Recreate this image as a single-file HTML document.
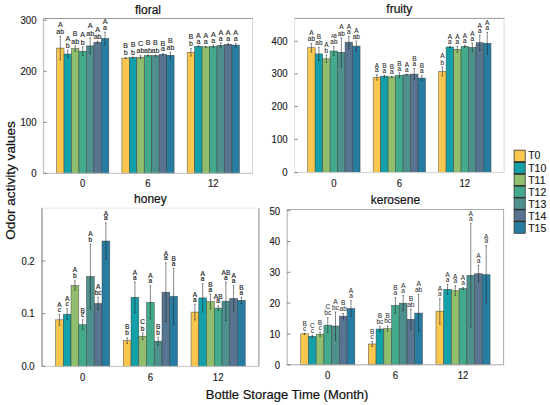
<!DOCTYPE html>
<html><head><meta charset="utf-8"><style>
html,body{margin:0;padding:0;background:#fff;}
svg{display:block;}
text{font-family:"Liberation Sans",sans-serif;}
</style></head><body>
<svg width="550" height="405" viewBox="0 0 550 405">
<rect width="550" height="405" fill="#fff"/>
<rect x="56.56" y="48.1" width="7.46" height="125.2" fill="#F9C74F" stroke="#3a3a3a" stroke-opacity="0.75" stroke-width="0.6"/>
<rect x="64.03" y="54" width="7.46" height="119.3" fill="#14A0A8" stroke="#3a3a3a" stroke-opacity="0.75" stroke-width="0.6"/>
<rect x="71.49" y="48.6" width="7.46" height="124.7" fill="#90BE6D" stroke="#3a3a3a" stroke-opacity="0.75" stroke-width="0.6"/>
<rect x="78.96" y="51.2" width="7.46" height="122.1" fill="#43AA8B" stroke="#3a3a3a" stroke-opacity="0.75" stroke-width="0.6"/>
<rect x="86.42" y="45.9" width="7.46" height="127.4" fill="#4D908E" stroke="#3a3a3a" stroke-opacity="0.75" stroke-width="0.6"/>
<rect x="93.88" y="42.2" width="7.46" height="131.1" fill="#577590" stroke="#3a3a3a" stroke-opacity="0.75" stroke-width="0.6"/>
<rect x="101.35" y="38.5" width="7.46" height="134.8" fill="#277DA1" stroke="#3a3a3a" stroke-opacity="0.75" stroke-width="0.6"/>
<rect x="121.88" y="58.1" width="7.46" height="115.2" fill="#F9C74F" stroke="#3a3a3a" stroke-opacity="0.75" stroke-width="0.6"/>
<rect x="129.34" y="57.4" width="7.46" height="115.9" fill="#14A0A8" stroke="#3a3a3a" stroke-opacity="0.75" stroke-width="0.6"/>
<rect x="136.8" y="57.2" width="7.46" height="116.1" fill="#90BE6D" stroke="#3a3a3a" stroke-opacity="0.75" stroke-width="0.6"/>
<rect x="144.27" y="55.6" width="7.46" height="117.7" fill="#43AA8B" stroke="#3a3a3a" stroke-opacity="0.75" stroke-width="0.6"/>
<rect x="151.73" y="55.6" width="7.46" height="117.7" fill="#4D908E" stroke="#3a3a3a" stroke-opacity="0.75" stroke-width="0.6"/>
<rect x="159.2" y="54.3" width="7.46" height="119" fill="#577590" stroke="#3a3a3a" stroke-opacity="0.75" stroke-width="0.6"/>
<rect x="166.66" y="55.3" width="7.46" height="118" fill="#277DA1" stroke="#3a3a3a" stroke-opacity="0.75" stroke-width="0.6"/>
<rect x="187.19" y="52.3" width="7.46" height="121" fill="#F9C74F" stroke="#3a3a3a" stroke-opacity="0.75" stroke-width="0.6"/>
<rect x="194.65" y="46.3" width="7.46" height="127" fill="#14A0A8" stroke="#3a3a3a" stroke-opacity="0.75" stroke-width="0.6"/>
<rect x="202.12" y="46.9" width="7.46" height="126.4" fill="#90BE6D" stroke="#3a3a3a" stroke-opacity="0.75" stroke-width="0.6"/>
<rect x="209.58" y="46.3" width="7.46" height="127" fill="#43AA8B" stroke="#3a3a3a" stroke-opacity="0.75" stroke-width="0.6"/>
<rect x="217.04" y="45.3" width="7.46" height="128" fill="#4D908E" stroke="#3a3a3a" stroke-opacity="0.75" stroke-width="0.6"/>
<rect x="224.51" y="44.3" width="7.46" height="129" fill="#577590" stroke="#3a3a3a" stroke-opacity="0.75" stroke-width="0.6"/>
<rect x="231.97" y="45.1" width="7.46" height="128.2" fill="#277DA1" stroke="#3a3a3a" stroke-opacity="0.75" stroke-width="0.6"/>
<path d="M60.29 36.2V60M59.49 36.2H61.09M59.49 60H61.09" stroke="#222" stroke-width="0.55" fill="none"/>
<path d="M67.76 50.3V57.7M66.96 50.3H68.56M66.96 57.7H68.56" stroke="#222" stroke-width="0.55" fill="none"/>
<path d="M75.22 45.9V51.3M74.42 45.9H76.02M74.42 51.3H76.02" stroke="#222" stroke-width="0.55" fill="none"/>
<path d="M82.69 46.9V55.5M81.89 46.9H83.49M81.89 55.5H83.49" stroke="#222" stroke-width="0.55" fill="none"/>
<path d="M90.15 37.9V53.9M89.35 37.9H90.95M89.35 53.9H90.95" stroke="#222" stroke-width="0.55" fill="none"/>
<path d="M97.62 41.2V43.2M96.82 41.2H98.42M96.82 43.2H98.42" stroke="#222" stroke-width="0.55" fill="none"/>
<path d="M105.08 32.3V44.7M104.28 32.3H105.88M104.28 44.7H105.88" stroke="#222" stroke-width="0.55" fill="none"/>
<path d="M125.61 57.7V58.5M124.81 57.7H126.41M124.81 58.5H126.41" stroke="#222" stroke-width="0.55" fill="none"/>
<path d="M133.07 57V57.8M132.27 57H133.87M132.27 57.8H133.87" stroke="#222" stroke-width="0.55" fill="none"/>
<path d="M140.54 55.7V58.7M139.74 55.7H141.34M139.74 58.7H141.34" stroke="#222" stroke-width="0.55" fill="none"/>
<path d="M148 55V56.2M147.2 55H148.8M147.2 56.2H148.8" stroke="#222" stroke-width="0.55" fill="none"/>
<path d="M155.46 55V56.2M154.66 55H156.26M154.66 56.2H156.26" stroke="#222" stroke-width="0.55" fill="none"/>
<path d="M162.93 53.7V54.9M162.13 53.7H163.73M162.13 54.9H163.73" stroke="#222" stroke-width="0.55" fill="none"/>
<path d="M170.39 52.1V58.5M169.59 52.1H171.19M169.59 58.5H171.19" stroke="#222" stroke-width="0.55" fill="none"/>
<path d="M190.92 48.5V56.1M190.12 48.5H191.72M190.12 56.1H191.72" stroke="#222" stroke-width="0.55" fill="none"/>
<path d="M198.38 45.8V46.8M197.58 45.8H199.18M197.58 46.8H199.18" stroke="#222" stroke-width="0.55" fill="none"/>
<path d="M205.85 46.4V47.4M205.05 46.4H206.65M205.05 47.4H206.65" stroke="#222" stroke-width="0.55" fill="none"/>
<path d="M213.31 44.8V47.8M212.51 44.8H214.11M212.51 47.8H214.11" stroke="#222" stroke-width="0.55" fill="none"/>
<path d="M220.78 42.8V47.8M219.98 42.8H221.58M219.98 47.8H221.58" stroke="#222" stroke-width="0.55" fill="none"/>
<path d="M228.24 43.3V45.3M227.44 43.3H229.04M227.44 45.3H229.04" stroke="#222" stroke-width="0.55" fill="none"/>
<path d="M235.71 43.1V47.1M234.91 43.1H236.51M234.91 47.1H236.51" stroke="#222" stroke-width="0.55" fill="none"/>
<text x="0" y="0" transform="translate(60.29 26.67) scale(0.95 1)" font-size="7.5" text-anchor="middle" fill="#2a2a2a" stroke="#2a2a2a" stroke-width="0.15">A</text>
<text x="0" y="0" transform="translate(60.29 33.9) scale(0.95 1)" font-size="7.5" text-anchor="middle" fill="#2a2a2a" stroke="#2a2a2a" stroke-width="0.15">ab</text>
<text x="0" y="0" transform="translate(67.76 40.77) scale(0.95 1)" font-size="7.5" text-anchor="middle" fill="#2a2a2a" stroke="#2a2a2a" stroke-width="0.15">A</text>
<text x="0" y="0" transform="translate(67.76 48) scale(0.95 1)" font-size="7.5" text-anchor="middle" fill="#2a2a2a" stroke="#2a2a2a" stroke-width="0.15">b</text>
<text x="0" y="0" transform="translate(75.22 36.37) scale(0.95 1)" font-size="7.5" text-anchor="middle" fill="#2a2a2a" stroke="#2a2a2a" stroke-width="0.15">B</text>
<text x="0" y="0" transform="translate(75.22 43.6) scale(0.95 1)" font-size="7.5" text-anchor="middle" fill="#2a2a2a" stroke="#2a2a2a" stroke-width="0.15">ab</text>
<text x="0" y="0" transform="translate(82.69 37.37) scale(0.95 1)" font-size="7.5" text-anchor="middle" fill="#2a2a2a" stroke="#2a2a2a" stroke-width="0.15">A</text>
<text x="0" y="0" transform="translate(82.69 44.6) scale(0.95 1)" font-size="7.5" text-anchor="middle" fill="#2a2a2a" stroke="#2a2a2a" stroke-width="0.15">b</text>
<text x="0" y="0" transform="translate(90.15 28.37) scale(0.95 1)" font-size="7.5" text-anchor="middle" fill="#2a2a2a" stroke="#2a2a2a" stroke-width="0.15">A</text>
<text x="0" y="0" transform="translate(90.15 35.6) scale(0.95 1)" font-size="7.5" text-anchor="middle" fill="#2a2a2a" stroke="#2a2a2a" stroke-width="0.15">ab</text>
<text x="0" y="0" transform="translate(97.62 31.67) scale(0.95 1)" font-size="7.5" text-anchor="middle" fill="#2a2a2a" stroke="#2a2a2a" stroke-width="0.15">A</text>
<text x="0" y="0" transform="translate(97.62 38.9) scale(0.95 1)" font-size="7.5" text-anchor="middle" fill="#2a2a2a" stroke="#2a2a2a" stroke-width="0.15">ab</text>
<text x="0" y="0" transform="translate(105.08 24.24) scale(0.95 1)" font-size="7.5" text-anchor="middle" fill="#2a2a2a" stroke="#2a2a2a" stroke-width="0.15">A</text>
<text x="0" y="0" transform="translate(105.08 30) scale(0.95 1)" font-size="7.5" text-anchor="middle" fill="#2a2a2a" stroke="#2a2a2a" stroke-width="0.15">a</text>
<text x="0" y="0" transform="translate(125.61 48.17) scale(0.95 1)" font-size="7.5" text-anchor="middle" fill="#2a2a2a" stroke="#2a2a2a" stroke-width="0.15">B</text>
<text x="0" y="0" transform="translate(125.61 55.4) scale(0.95 1)" font-size="7.5" text-anchor="middle" fill="#2a2a2a" stroke="#2a2a2a" stroke-width="0.15">b</text>
<text x="0" y="0" transform="translate(133.07 47.47) scale(0.95 1)" font-size="7.5" text-anchor="middle" fill="#2a2a2a" stroke="#2a2a2a" stroke-width="0.15">B</text>
<text x="0" y="0" transform="translate(133.07 54.7) scale(0.95 1)" font-size="7.5" text-anchor="middle" fill="#2a2a2a" stroke="#2a2a2a" stroke-width="0.15">b</text>
<text x="0" y="0" transform="translate(140.54 46.17) scale(0.95 1)" font-size="7.5" text-anchor="middle" fill="#2a2a2a" stroke="#2a2a2a" stroke-width="0.15">C</text>
<text x="0" y="0" transform="translate(140.54 53.4) scale(0.95 1)" font-size="7.5" text-anchor="middle" fill="#2a2a2a" stroke="#2a2a2a" stroke-width="0.15">ab</text>
<text x="0" y="0" transform="translate(148 45.47) scale(0.95 1)" font-size="7.5" text-anchor="middle" fill="#2a2a2a" stroke="#2a2a2a" stroke-width="0.15">B</text>
<text x="0" y="0" transform="translate(148 52.7) scale(0.95 1)" font-size="7.5" text-anchor="middle" fill="#2a2a2a" stroke="#2a2a2a" stroke-width="0.15">ab</text>
<text x="0" y="0" transform="translate(155.46 45.47) scale(0.95 1)" font-size="7.5" text-anchor="middle" fill="#2a2a2a" stroke="#2a2a2a" stroke-width="0.15">B</text>
<text x="0" y="0" transform="translate(155.46 52.7) scale(0.95 1)" font-size="7.5" text-anchor="middle" fill="#2a2a2a" stroke="#2a2a2a" stroke-width="0.15">ab</text>
<text x="0" y="0" transform="translate(162.93 45.64) scale(0.95 1)" font-size="7.5" text-anchor="middle" fill="#2a2a2a" stroke="#2a2a2a" stroke-width="0.15">B</text>
<text x="0" y="0" transform="translate(162.93 51.4) scale(0.95 1)" font-size="7.5" text-anchor="middle" fill="#2a2a2a" stroke="#2a2a2a" stroke-width="0.15">a</text>
<text x="0" y="0" transform="translate(170.39 42.57) scale(0.95 1)" font-size="7.5" text-anchor="middle" fill="#2a2a2a" stroke="#2a2a2a" stroke-width="0.15">B</text>
<text x="0" y="0" transform="translate(170.39 49.8) scale(0.95 1)" font-size="7.5" text-anchor="middle" fill="#2a2a2a" stroke="#2a2a2a" stroke-width="0.15">ab</text>
<text x="0" y="0" transform="translate(190.92 38.97) scale(0.95 1)" font-size="7.5" text-anchor="middle" fill="#2a2a2a" stroke="#2a2a2a" stroke-width="0.15">B</text>
<text x="0" y="0" transform="translate(190.92 46.2) scale(0.95 1)" font-size="7.5" text-anchor="middle" fill="#2a2a2a" stroke="#2a2a2a" stroke-width="0.15">b</text>
<text x="0" y="0" transform="translate(198.38 37.74) scale(0.95 1)" font-size="7.5" text-anchor="middle" fill="#2a2a2a" stroke="#2a2a2a" stroke-width="0.15">A</text>
<text x="0" y="0" transform="translate(198.38 43.5) scale(0.95 1)" font-size="7.5" text-anchor="middle" fill="#2a2a2a" stroke="#2a2a2a" stroke-width="0.15">a</text>
<text x="0" y="0" transform="translate(205.85 38.34) scale(0.95 1)" font-size="7.5" text-anchor="middle" fill="#2a2a2a" stroke="#2a2a2a" stroke-width="0.15">A</text>
<text x="0" y="0" transform="translate(205.85 44.1) scale(0.95 1)" font-size="7.5" text-anchor="middle" fill="#2a2a2a" stroke="#2a2a2a" stroke-width="0.15">a</text>
<text x="0" y="0" transform="translate(213.31 36.74) scale(0.95 1)" font-size="7.5" text-anchor="middle" fill="#2a2a2a" stroke="#2a2a2a" stroke-width="0.15">A</text>
<text x="0" y="0" transform="translate(213.31 42.5) scale(0.95 1)" font-size="7.5" text-anchor="middle" fill="#2a2a2a" stroke="#2a2a2a" stroke-width="0.15">a</text>
<text x="0" y="0" transform="translate(220.78 34.74) scale(0.95 1)" font-size="7.5" text-anchor="middle" fill="#2a2a2a" stroke="#2a2a2a" stroke-width="0.15">A</text>
<text x="0" y="0" transform="translate(220.78 40.5) scale(0.95 1)" font-size="7.5" text-anchor="middle" fill="#2a2a2a" stroke="#2a2a2a" stroke-width="0.15">a</text>
<text x="0" y="0" transform="translate(228.24 35.24) scale(0.95 1)" font-size="7.5" text-anchor="middle" fill="#2a2a2a" stroke="#2a2a2a" stroke-width="0.15">A</text>
<text x="0" y="0" transform="translate(228.24 41) scale(0.95 1)" font-size="7.5" text-anchor="middle" fill="#2a2a2a" stroke="#2a2a2a" stroke-width="0.15">a</text>
<text x="0" y="0" transform="translate(235.71 35.04) scale(0.95 1)" font-size="7.5" text-anchor="middle" fill="#2a2a2a" stroke="#2a2a2a" stroke-width="0.15">A</text>
<text x="0" y="0" transform="translate(235.71 40.8) scale(0.95 1)" font-size="7.5" text-anchor="middle" fill="#2a2a2a" stroke="#2a2a2a" stroke-width="0.15">a</text>
<path d="M43 18.5H253" stroke="#999" stroke-width="1"/>
<path d="M43.5 18.5V173.3" stroke="#c4c4c4" stroke-width="1.3"/>
<path d="M252.5 18.5V173.3" stroke="#d4d4d4" stroke-width="1"/>
<path d="M43 173.3H253" stroke="#c0c0c0" stroke-width="1"/>
<path d="M43.5 173.3H46.7" stroke="#666" stroke-width="0.8"/>
<text x="0" y="0" transform="translate(36.5 176.8) scale(0.93 1)" font-size="10.3" text-anchor="end" fill="#1a1a1a" stroke="#1a1a1a" stroke-width="0.15">0</text>
<path d="M43.5 122.4H46.7" stroke="#666" stroke-width="0.8"/>
<text x="0" y="0" transform="translate(36.5 125.9) scale(0.93 1)" font-size="10.3" text-anchor="end" fill="#1a1a1a" stroke="#1a1a1a" stroke-width="0.15">100</text>
<path d="M43.5 71.3H46.7" stroke="#666" stroke-width="0.8"/>
<text x="0" y="0" transform="translate(36.5 74.8) scale(0.93 1)" font-size="10.3" text-anchor="end" fill="#1a1a1a" stroke="#1a1a1a" stroke-width="0.15">200</text>
<path d="M43.5 20.3H46.7" stroke="#666" stroke-width="0.8"/>
<text x="0" y="0" transform="translate(36.5 23.8) scale(0.93 1)" font-size="10.3" text-anchor="end" fill="#1a1a1a" stroke="#1a1a1a" stroke-width="0.15">300</text>
<text x="0" y="0" transform="translate(82.69 187.3) scale(0.93 1)" font-size="10.3" text-anchor="middle" fill="#1a1a1a" stroke="#1a1a1a" stroke-width="0.15">0</text>
<text x="0" y="0" transform="translate(148 187.3) scale(0.93 1)" font-size="10.3" text-anchor="middle" fill="#1a1a1a" stroke="#1a1a1a" stroke-width="0.15">6</text>
<text x="0" y="0" transform="translate(213.31 187.3) scale(0.93 1)" font-size="10.3" text-anchor="middle" fill="#1a1a1a" stroke="#1a1a1a" stroke-width="0.15">12</text>
<text x="148" y="13.6" font-size="12" text-anchor="middle" fill="#111" stroke="#111" stroke-width="0.2">floral</text>
<rect x="307.69" y="47.7" width="7.48" height="124.9" fill="#F9C74F" stroke="#3a3a3a" stroke-opacity="0.75" stroke-width="0.6"/>
<rect x="315.18" y="53.9" width="7.48" height="118.7" fill="#14A0A8" stroke="#3a3a3a" stroke-opacity="0.75" stroke-width="0.6"/>
<rect x="322.66" y="58.8" width="7.48" height="113.8" fill="#90BE6D" stroke="#3a3a3a" stroke-opacity="0.75" stroke-width="0.6"/>
<rect x="330.14" y="51" width="7.48" height="121.6" fill="#43AA8B" stroke="#3a3a3a" stroke-opacity="0.75" stroke-width="0.6"/>
<rect x="337.62" y="52.3" width="7.48" height="120.3" fill="#4D908E" stroke="#3a3a3a" stroke-opacity="0.75" stroke-width="0.6"/>
<rect x="345.1" y="42.2" width="7.48" height="130.4" fill="#577590" stroke="#3a3a3a" stroke-opacity="0.75" stroke-width="0.6"/>
<rect x="352.59" y="46.1" width="7.48" height="126.5" fill="#277DA1" stroke="#3a3a3a" stroke-opacity="0.75" stroke-width="0.6"/>
<rect x="373.16" y="77.4" width="7.48" height="95.2" fill="#F9C74F" stroke="#3a3a3a" stroke-opacity="0.75" stroke-width="0.6"/>
<rect x="380.64" y="76.2" width="7.48" height="96.4" fill="#14A0A8" stroke="#3a3a3a" stroke-opacity="0.75" stroke-width="0.6"/>
<rect x="388.13" y="76.9" width="7.48" height="95.7" fill="#90BE6D" stroke="#3a3a3a" stroke-opacity="0.75" stroke-width="0.6"/>
<rect x="395.61" y="75.3" width="7.48" height="97.3" fill="#43AA8B" stroke="#3a3a3a" stroke-opacity="0.75" stroke-width="0.6"/>
<rect x="403.09" y="74.7" width="7.48" height="97.9" fill="#4D908E" stroke="#3a3a3a" stroke-opacity="0.75" stroke-width="0.6"/>
<rect x="410.57" y="74.1" width="7.48" height="98.5" fill="#577590" stroke="#3a3a3a" stroke-opacity="0.75" stroke-width="0.6"/>
<rect x="418.06" y="78.1" width="7.48" height="94.5" fill="#277DA1" stroke="#3a3a3a" stroke-opacity="0.75" stroke-width="0.6"/>
<rect x="438.63" y="71.5" width="7.48" height="101.1" fill="#F9C74F" stroke="#3a3a3a" stroke-opacity="0.75" stroke-width="0.6"/>
<rect x="446.11" y="47" width="7.48" height="125.6" fill="#14A0A8" stroke="#3a3a3a" stroke-opacity="0.75" stroke-width="0.6"/>
<rect x="453.6" y="49.3" width="7.48" height="123.3" fill="#90BE6D" stroke="#3a3a3a" stroke-opacity="0.75" stroke-width="0.6"/>
<rect x="461.08" y="46.4" width="7.48" height="126.2" fill="#43AA8B" stroke="#3a3a3a" stroke-opacity="0.75" stroke-width="0.6"/>
<rect x="468.56" y="47.3" width="7.48" height="125.3" fill="#4D908E" stroke="#3a3a3a" stroke-opacity="0.75" stroke-width="0.6"/>
<rect x="476.04" y="42.7" width="7.48" height="129.9" fill="#577590" stroke="#3a3a3a" stroke-opacity="0.75" stroke-width="0.6"/>
<rect x="483.52" y="43.3" width="7.48" height="129.3" fill="#277DA1" stroke="#3a3a3a" stroke-opacity="0.75" stroke-width="0.6"/>
<path d="M311.43 43.4V52M310.63 43.4H312.23M310.63 52H312.23" stroke="#222" stroke-width="0.55" fill="none"/>
<path d="M318.92 47.3V60.5M318.12 47.3H319.72M318.12 60.5H319.72" stroke="#222" stroke-width="0.55" fill="none"/>
<path d="M326.4 55.1V62.5M325.6 55.1H327.2M325.6 62.5H327.2" stroke="#222" stroke-width="0.55" fill="none"/>
<path d="M333.88 46.5V55.5M333.08 46.5H334.68M333.08 55.5H334.68" stroke="#222" stroke-width="0.55" fill="none"/>
<path d="M341.36 37.8V66.8M340.56 37.8H342.16M340.56 66.8H342.16" stroke="#222" stroke-width="0.55" fill="none"/>
<path d="M348.85 36V48.4M348.05 36H349.65M348.05 48.4H349.65" stroke="#222" stroke-width="0.55" fill="none"/>
<path d="M356.33 41.1V51.1M355.53 41.1H357.13M355.53 51.1H357.13" stroke="#222" stroke-width="0.55" fill="none"/>
<path d="M376.9 74.7V80.1M376.1 74.7H377.7M376.1 80.1H377.7" stroke="#222" stroke-width="0.55" fill="none"/>
<path d="M384.39 75.2V77.2M383.59 75.2H385.19M383.59 77.2H385.19" stroke="#222" stroke-width="0.55" fill="none"/>
<path d="M391.87 76.4V77.4M391.07 76.4H392.67M391.07 77.4H392.67" stroke="#222" stroke-width="0.55" fill="none"/>
<path d="M399.35 72.8V77.8M398.55 72.8H400.15M398.55 77.8H400.15" stroke="#222" stroke-width="0.55" fill="none"/>
<path d="M406.83 74.2V75.2M406.03 74.2H407.63M406.03 75.2H407.63" stroke="#222" stroke-width="0.55" fill="none"/>
<path d="M414.31 68.5V79.7M413.51 68.5H415.11M413.51 79.7H415.11" stroke="#222" stroke-width="0.55" fill="none"/>
<path d="M421.8 75.3V80.9M421 75.3H422.6M421 80.9H422.6" stroke="#222" stroke-width="0.55" fill="none"/>
<path d="M442.37 67V76M441.57 67H443.17M441.57 76H443.17" stroke="#222" stroke-width="0.55" fill="none"/>
<path d="M449.85 46.5V47.5M449.05 46.5H450.65M449.05 47.5H450.65" stroke="#222" stroke-width="0.55" fill="none"/>
<path d="M457.34 46.4V52.2M456.54 46.4H458.14M456.54 52.2H458.14" stroke="#222" stroke-width="0.55" fill="none"/>
<path d="M464.82 45.4V47.4M464.02 45.4H465.62M464.02 47.4H465.62" stroke="#222" stroke-width="0.55" fill="none"/>
<path d="M472.3 43.1V51.5M471.5 43.1H473.1M471.5 51.5H473.1" stroke="#222" stroke-width="0.55" fill="none"/>
<path d="M479.78 35.3V50.1M478.98 35.3H480.58M478.98 50.1H480.58" stroke="#222" stroke-width="0.55" fill="none"/>
<path d="M487.27 32.3V54.3M486.47 32.3H488.07M486.47 54.3H488.07" stroke="#222" stroke-width="0.55" fill="none"/>
<text x="0" y="0" transform="translate(311.43 34.88) scale(0.9 1)" font-size="7.2" text-anchor="middle" fill="#2a2a2a" stroke="#2a2a2a" stroke-width="0.1">A</text>
<text x="0" y="0" transform="translate(311.43 41.1) scale(0.9 1)" font-size="7.2" text-anchor="middle" fill="#2a2a2a" stroke="#2a2a2a" stroke-width="0.1">ab</text>
<text x="0" y="0" transform="translate(318.92 38.78) scale(0.9 1)" font-size="7.2" text-anchor="middle" fill="#2a2a2a" stroke="#2a2a2a" stroke-width="0.1">B</text>
<text x="0" y="0" transform="translate(318.92 45) scale(0.9 1)" font-size="7.2" text-anchor="middle" fill="#2a2a2a" stroke="#2a2a2a" stroke-width="0.1">ab</text>
<text x="0" y="0" transform="translate(326.4 46.58) scale(0.9 1)" font-size="7.2" text-anchor="middle" fill="#2a2a2a" stroke="#2a2a2a" stroke-width="0.1">A</text>
<text x="0" y="0" transform="translate(326.4 52.8) scale(0.9 1)" font-size="7.2" text-anchor="middle" fill="#2a2a2a" stroke="#2a2a2a" stroke-width="0.1">b</text>
<text x="0" y="0" transform="translate(333.88 37.98) scale(0.9 1)" font-size="4.6" text-anchor="middle" fill="#2a2a2a" stroke="#2a2a2a" stroke-width="0.1">AB</text>
<text x="0" y="0" transform="translate(333.88 44.2) scale(0.9 1)" font-size="7.2" text-anchor="middle" fill="#2a2a2a" stroke="#2a2a2a" stroke-width="0.1">ab</text>
<text x="0" y="0" transform="translate(341.36 29.28) scale(0.9 1)" font-size="7.2" text-anchor="middle" fill="#2a2a2a" stroke="#2a2a2a" stroke-width="0.1">A</text>
<text x="0" y="0" transform="translate(341.36 35.5) scale(0.9 1)" font-size="7.2" text-anchor="middle" fill="#2a2a2a" stroke="#2a2a2a" stroke-width="0.1">ab</text>
<text x="0" y="0" transform="translate(348.85 28.9) scale(0.9 1)" font-size="7.2" text-anchor="middle" fill="#2a2a2a" stroke="#2a2a2a" stroke-width="0.1">A</text>
<text x="0" y="0" transform="translate(348.85 33.7) scale(0.9 1)" font-size="7.2" text-anchor="middle" fill="#2a2a2a" stroke="#2a2a2a" stroke-width="0.1">a</text>
<text x="0" y="0" transform="translate(356.33 32.58) scale(0.9 1)" font-size="7.2" text-anchor="middle" fill="#2a2a2a" stroke="#2a2a2a" stroke-width="0.1">A</text>
<text x="0" y="0" transform="translate(356.33 38.8) scale(0.9 1)" font-size="7.2" text-anchor="middle" fill="#2a2a2a" stroke="#2a2a2a" stroke-width="0.1">ab</text>
<text x="0" y="0" transform="translate(376.9 67.6) scale(0.9 1)" font-size="7.2" text-anchor="middle" fill="#2a2a2a" stroke="#2a2a2a" stroke-width="0.1">A</text>
<text x="0" y="0" transform="translate(376.9 72.4) scale(0.9 1)" font-size="7.2" text-anchor="middle" fill="#2a2a2a" stroke="#2a2a2a" stroke-width="0.1">a</text>
<text x="0" y="0" transform="translate(384.39 68.1) scale(0.9 1)" font-size="7.2" text-anchor="middle" fill="#2a2a2a" stroke="#2a2a2a" stroke-width="0.1">B</text>
<text x="0" y="0" transform="translate(384.39 72.9) scale(0.9 1)" font-size="7.2" text-anchor="middle" fill="#2a2a2a" stroke="#2a2a2a" stroke-width="0.1">a</text>
<text x="0" y="0" transform="translate(391.87 69.3) scale(0.9 1)" font-size="7.2" text-anchor="middle" fill="#2a2a2a" stroke="#2a2a2a" stroke-width="0.1">B</text>
<text x="0" y="0" transform="translate(391.87 74.1) scale(0.9 1)" font-size="7.2" text-anchor="middle" fill="#2a2a2a" stroke="#2a2a2a" stroke-width="0.1">a</text>
<text x="0" y="0" transform="translate(399.35 65.7) scale(0.9 1)" font-size="7.2" text-anchor="middle" fill="#2a2a2a" stroke="#2a2a2a" stroke-width="0.1">B</text>
<text x="0" y="0" transform="translate(399.35 70.5) scale(0.9 1)" font-size="7.2" text-anchor="middle" fill="#2a2a2a" stroke="#2a2a2a" stroke-width="0.1">a</text>
<text x="0" y="0" transform="translate(406.83 67.1) scale(0.9 1)" font-size="7.2" text-anchor="middle" fill="#2a2a2a" stroke="#2a2a2a" stroke-width="0.1">A</text>
<text x="0" y="0" transform="translate(406.83 71.9) scale(0.9 1)" font-size="7.2" text-anchor="middle" fill="#2a2a2a" stroke="#2a2a2a" stroke-width="0.1">a</text>
<text x="0" y="0" transform="translate(414.31 61.4) scale(0.9 1)" font-size="7.2" text-anchor="middle" fill="#2a2a2a" stroke="#2a2a2a" stroke-width="0.1">B</text>
<text x="0" y="0" transform="translate(414.31 66.2) scale(0.9 1)" font-size="7.2" text-anchor="middle" fill="#2a2a2a" stroke="#2a2a2a" stroke-width="0.1">a</text>
<text x="0" y="0" transform="translate(421.8 68.2) scale(0.9 1)" font-size="7.2" text-anchor="middle" fill="#2a2a2a" stroke="#2a2a2a" stroke-width="0.1">B</text>
<text x="0" y="0" transform="translate(421.8 73) scale(0.9 1)" font-size="7.2" text-anchor="middle" fill="#2a2a2a" stroke="#2a2a2a" stroke-width="0.1">a</text>
<text x="0" y="0" transform="translate(442.37 58.48) scale(0.9 1)" font-size="7.2" text-anchor="middle" fill="#2a2a2a" stroke="#2a2a2a" stroke-width="0.1">A</text>
<text x="0" y="0" transform="translate(442.37 64.7) scale(0.9 1)" font-size="7.2" text-anchor="middle" fill="#2a2a2a" stroke="#2a2a2a" stroke-width="0.1">b</text>
<text x="0" y="0" transform="translate(449.85 39.4) scale(0.9 1)" font-size="7.2" text-anchor="middle" fill="#2a2a2a" stroke="#2a2a2a" stroke-width="0.1">A</text>
<text x="0" y="0" transform="translate(449.85 44.2) scale(0.9 1)" font-size="7.2" text-anchor="middle" fill="#2a2a2a" stroke="#2a2a2a" stroke-width="0.1">a</text>
<text x="0" y="0" transform="translate(457.34 39.3) scale(0.9 1)" font-size="7.2" text-anchor="middle" fill="#2a2a2a" stroke="#2a2a2a" stroke-width="0.1">A</text>
<text x="0" y="0" transform="translate(457.34 44.1) scale(0.9 1)" font-size="7.2" text-anchor="middle" fill="#2a2a2a" stroke="#2a2a2a" stroke-width="0.1">a</text>
<text x="0" y="0" transform="translate(464.82 38.3) scale(0.9 1)" font-size="7.2" text-anchor="middle" fill="#2a2a2a" stroke="#2a2a2a" stroke-width="0.1">A</text>
<text x="0" y="0" transform="translate(464.82 43.1) scale(0.9 1)" font-size="7.2" text-anchor="middle" fill="#2a2a2a" stroke="#2a2a2a" stroke-width="0.1">a</text>
<text x="0" y="0" transform="translate(472.3 36) scale(0.9 1)" font-size="7.2" text-anchor="middle" fill="#2a2a2a" stroke="#2a2a2a" stroke-width="0.1">A</text>
<text x="0" y="0" transform="translate(472.3 40.8) scale(0.9 1)" font-size="7.2" text-anchor="middle" fill="#2a2a2a" stroke="#2a2a2a" stroke-width="0.1">a</text>
<text x="0" y="0" transform="translate(479.78 28.2) scale(0.9 1)" font-size="7.2" text-anchor="middle" fill="#2a2a2a" stroke="#2a2a2a" stroke-width="0.1">A</text>
<text x="0" y="0" transform="translate(479.78 33) scale(0.9 1)" font-size="7.2" text-anchor="middle" fill="#2a2a2a" stroke="#2a2a2a" stroke-width="0.1">a</text>
<text x="0" y="0" transform="translate(487.27 25.2) scale(0.9 1)" font-size="7.2" text-anchor="middle" fill="#2a2a2a" stroke="#2a2a2a" stroke-width="0.1">A</text>
<text x="0" y="0" transform="translate(487.27 30) scale(0.9 1)" font-size="7.2" text-anchor="middle" fill="#2a2a2a" stroke="#2a2a2a" stroke-width="0.1">a</text>
<path d="M294.1 18.4H504.6" stroke="#999" stroke-width="1"/>
<path d="M294.6 18.4V172.6" stroke="#e0e0e0" stroke-width="1"/>
<path d="M504.1 18.4V172.6" stroke="#dadada" stroke-width="1"/>
<path d="M294.1 172.6H504.6" stroke="#d4d4d4" stroke-width="1"/>
<path d="M294.6 172.6H297.8" stroke="#666" stroke-width="0.8"/>
<text x="0" y="0" transform="translate(287.6 176.1) scale(0.93 1)" font-size="10.3" text-anchor="end" fill="#1a1a1a" stroke="#1a1a1a" stroke-width="0.15">0</text>
<path d="M294.6 139.4H297.8" stroke="#666" stroke-width="0.8"/>
<text x="0" y="0" transform="translate(287.6 142.9) scale(0.93 1)" font-size="10.3" text-anchor="end" fill="#1a1a1a" stroke="#1a1a1a" stroke-width="0.15">100</text>
<path d="M294.6 106.5H297.8" stroke="#666" stroke-width="0.8"/>
<text x="0" y="0" transform="translate(287.6 110) scale(0.93 1)" font-size="10.3" text-anchor="end" fill="#1a1a1a" stroke="#1a1a1a" stroke-width="0.15">200</text>
<path d="M294.6 73.9H297.8" stroke="#666" stroke-width="0.8"/>
<text x="0" y="0" transform="translate(287.6 77.4) scale(0.93 1)" font-size="10.3" text-anchor="end" fill="#1a1a1a" stroke="#1a1a1a" stroke-width="0.15">300</text>
<path d="M294.6 41.3H297.8" stroke="#666" stroke-width="0.8"/>
<text x="0" y="0" transform="translate(287.6 44.8) scale(0.93 1)" font-size="10.3" text-anchor="end" fill="#1a1a1a" stroke="#1a1a1a" stroke-width="0.15">400</text>
<text x="0" y="0" transform="translate(333.88 186.6) scale(0.93 1)" font-size="10.3" text-anchor="middle" fill="#1a1a1a" stroke="#1a1a1a" stroke-width="0.15">0</text>
<text x="0" y="0" transform="translate(399.35 186.6) scale(0.93 1)" font-size="10.3" text-anchor="middle" fill="#1a1a1a" stroke="#1a1a1a" stroke-width="0.15">6</text>
<text x="0" y="0" transform="translate(464.82 186.6) scale(0.93 1)" font-size="10.3" text-anchor="middle" fill="#1a1a1a" stroke="#1a1a1a" stroke-width="0.15">12</text>
<text x="399.35" y="13.2" font-size="12" text-anchor="middle" fill="#111" stroke="#111" stroke-width="0.2">fruity</text>
<rect x="55.55" y="319.8" width="7.74" height="46.6" fill="#F9C74F" stroke="#3a3a3a" stroke-opacity="0.75" stroke-width="0.6"/>
<rect x="63.29" y="314.2" width="7.74" height="52.2" fill="#14A0A8" stroke="#3a3a3a" stroke-opacity="0.75" stroke-width="0.6"/>
<rect x="71.04" y="285.5" width="7.74" height="80.9" fill="#90BE6D" stroke="#3a3a3a" stroke-opacity="0.75" stroke-width="0.6"/>
<rect x="78.78" y="324.7" width="7.74" height="41.7" fill="#43AA8B" stroke="#3a3a3a" stroke-opacity="0.75" stroke-width="0.6"/>
<rect x="86.52" y="276.5" width="7.74" height="89.9" fill="#4D908E" stroke="#3a3a3a" stroke-opacity="0.75" stroke-width="0.6"/>
<rect x="94.26" y="303.5" width="7.74" height="62.9" fill="#577590" stroke="#3a3a3a" stroke-opacity="0.75" stroke-width="0.6"/>
<rect x="102.01" y="241" width="7.74" height="125.4" fill="#277DA1" stroke="#3a3a3a" stroke-opacity="0.75" stroke-width="0.6"/>
<rect x="123.3" y="340.6" width="7.74" height="25.8" fill="#F9C74F" stroke="#3a3a3a" stroke-opacity="0.75" stroke-width="0.6"/>
<rect x="131.04" y="297.3" width="7.74" height="69.1" fill="#14A0A8" stroke="#3a3a3a" stroke-opacity="0.75" stroke-width="0.6"/>
<rect x="138.79" y="336.2" width="7.74" height="30.2" fill="#90BE6D" stroke="#3a3a3a" stroke-opacity="0.75" stroke-width="0.6"/>
<rect x="146.53" y="302.3" width="7.74" height="64.1" fill="#43AA8B" stroke="#3a3a3a" stroke-opacity="0.75" stroke-width="0.6"/>
<rect x="154.27" y="341.2" width="7.74" height="25.2" fill="#4D908E" stroke="#3a3a3a" stroke-opacity="0.75" stroke-width="0.6"/>
<rect x="162.01" y="292.2" width="7.74" height="74.2" fill="#577590" stroke="#3a3a3a" stroke-opacity="0.75" stroke-width="0.6"/>
<rect x="169.76" y="296.4" width="7.74" height="70" fill="#277DA1" stroke="#3a3a3a" stroke-opacity="0.75" stroke-width="0.6"/>
<rect x="191.05" y="312.1" width="7.74" height="54.3" fill="#F9C74F" stroke="#3a3a3a" stroke-opacity="0.75" stroke-width="0.6"/>
<rect x="198.79" y="297.9" width="7.74" height="68.5" fill="#14A0A8" stroke="#3a3a3a" stroke-opacity="0.75" stroke-width="0.6"/>
<rect x="206.54" y="301.6" width="7.74" height="64.8" fill="#90BE6D" stroke="#3a3a3a" stroke-opacity="0.75" stroke-width="0.6"/>
<rect x="214.28" y="308.1" width="7.74" height="58.3" fill="#43AA8B" stroke="#3a3a3a" stroke-opacity="0.75" stroke-width="0.6"/>
<rect x="222.02" y="301.2" width="7.74" height="65.2" fill="#4D908E" stroke="#3a3a3a" stroke-opacity="0.75" stroke-width="0.6"/>
<rect x="229.76" y="298.5" width="7.74" height="67.9" fill="#577590" stroke="#3a3a3a" stroke-opacity="0.75" stroke-width="0.6"/>
<rect x="237.51" y="300.4" width="7.74" height="66" fill="#277DA1" stroke="#3a3a3a" stroke-opacity="0.75" stroke-width="0.6"/>
<path d="M59.42 314.3V325.3M58.62 314.3H60.22M58.62 325.3H60.22" stroke="#222" stroke-width="0.55" fill="none"/>
<path d="M67.16 308.6V319.8M66.36 308.6H67.96M66.36 319.8H67.96" stroke="#222" stroke-width="0.55" fill="none"/>
<path d="M74.91 280.8V290.2M74.11 280.8H75.71M74.11 290.2H75.71" stroke="#222" stroke-width="0.55" fill="none"/>
<path d="M82.65 319.8V329.6M81.85 319.8H83.45M81.85 329.6H83.45" stroke="#222" stroke-width="0.55" fill="none"/>
<path d="M90.39 244.1V308.9M89.59 244.1H91.19M89.59 308.9H91.19" stroke="#222" stroke-width="0.55" fill="none"/>
<path d="M98.14 297.3V309.7M97.34 297.3H98.94M97.34 309.7H98.94" stroke="#222" stroke-width="0.55" fill="none"/>
<path d="M105.88 222.8V259.2M105.08 222.8H106.68M105.08 259.2H106.68" stroke="#222" stroke-width="0.55" fill="none"/>
<path d="M127.17 337.8V343.4M126.37 337.8H127.97M126.37 343.4H127.97" stroke="#222" stroke-width="0.55" fill="none"/>
<path d="M134.91 281.9V312.7M134.11 281.9H135.71M134.11 312.7H135.71" stroke="#222" stroke-width="0.55" fill="none"/>
<path d="M142.66 332.9V339.5M141.86 332.9H143.46M141.86 339.5H143.46" stroke="#222" stroke-width="0.55" fill="none"/>
<path d="M150.4 285.7V318.9M149.6 285.7H151.2M149.6 318.9H151.2" stroke="#222" stroke-width="0.55" fill="none"/>
<path d="M158.14 337.3V345.1M157.34 337.3H158.94M157.34 345.1H158.94" stroke="#222" stroke-width="0.55" fill="none"/>
<path d="M165.89 262.8V321.6M165.09 262.8H166.69M165.09 321.6H166.69" stroke="#222" stroke-width="0.55" fill="none"/>
<path d="M173.63 268.2V324.6M172.83 268.2H174.43M172.83 324.6H174.43" stroke="#222" stroke-width="0.55" fill="none"/>
<path d="M194.92 304.2V320M194.12 304.2H195.72M194.12 320H195.72" stroke="#222" stroke-width="0.55" fill="none"/>
<path d="M202.66 283.7V312.1M201.86 283.7H203.46M201.86 312.1H203.46" stroke="#222" stroke-width="0.55" fill="none"/>
<path d="M210.41 294V309.2M209.61 294H211.21M209.61 309.2H211.21" stroke="#222" stroke-width="0.55" fill="none"/>
<path d="M218.15 305.8V310.4M217.35 305.8H218.95M217.35 310.4H218.95" stroke="#222" stroke-width="0.55" fill="none"/>
<path d="M225.89 282V320.4M225.09 282H226.69M225.09 320.4H226.69" stroke="#222" stroke-width="0.55" fill="none"/>
<path d="M233.64 285.3V311.7M232.84 285.3H234.44M232.84 311.7H234.44" stroke="#222" stroke-width="0.55" fill="none"/>
<path d="M241.38 297.4V303.4M240.58 297.4H242.18M240.58 303.4H242.18" stroke="#222" stroke-width="0.55" fill="none"/>
<text x="0" y="0" transform="translate(59.42 307.07) scale(1 1)" font-size="6.5" text-anchor="middle" fill="#2a2a2a" stroke="#2a2a2a" stroke-width="0.2">A</text>
<text x="0" y="0" transform="translate(59.42 311.9) scale(1 1)" font-size="6.5" text-anchor="middle" fill="#2a2a2a" stroke="#2a2a2a" stroke-width="0.2">c</text>
<text x="0" y="0" transform="translate(67.16 301.37) scale(1 1)" font-size="6.5" text-anchor="middle" fill="#2a2a2a" stroke="#2a2a2a" stroke-width="0.2">A</text>
<text x="0" y="0" transform="translate(67.16 306.2) scale(1 1)" font-size="6.5" text-anchor="middle" fill="#2a2a2a" stroke="#2a2a2a" stroke-width="0.2">c</text>
<text x="0" y="0" transform="translate(74.91 272.29) scale(1 1)" font-size="6.5" text-anchor="middle" fill="#2a2a2a" stroke="#2a2a2a" stroke-width="0.2">A</text>
<text x="0" y="0" transform="translate(74.91 278.4) scale(1 1)" font-size="6.5" text-anchor="middle" fill="#2a2a2a" stroke="#2a2a2a" stroke-width="0.2">b</text>
<text x="0" y="0" transform="translate(82.65 312.57) scale(1 1)" font-size="6.5" text-anchor="middle" fill="#2a2a2a" stroke="#2a2a2a" stroke-width="0.2">B</text>
<text x="0" y="0" transform="translate(82.65 317.4) scale(1 1)" font-size="6.5" text-anchor="middle" fill="#2a2a2a" stroke="#2a2a2a" stroke-width="0.2">c</text>
<text x="0" y="0" transform="translate(90.39 235.59) scale(1 1)" font-size="6.5" text-anchor="middle" fill="#2a2a2a" stroke="#2a2a2a" stroke-width="0.2">A</text>
<text x="0" y="0" transform="translate(90.39 241.7) scale(1 1)" font-size="6.5" text-anchor="middle" fill="#2a2a2a" stroke="#2a2a2a" stroke-width="0.2">b</text>
<text x="0" y="0" transform="translate(98.14 288.79) scale(1 1)" font-size="6.5" text-anchor="middle" fill="#2a2a2a" stroke="#2a2a2a" stroke-width="0.2">A</text>
<text x="0" y="0" transform="translate(98.14 294.9) scale(1 1)" font-size="6.5" text-anchor="middle" fill="#2a2a2a" stroke="#2a2a2a" stroke-width="0.2">bc</text>
<text x="0" y="0" transform="translate(105.88 215.57) scale(1 1)" font-size="6.5" text-anchor="middle" fill="#2a2a2a" stroke="#2a2a2a" stroke-width="0.2">A</text>
<text x="0" y="0" transform="translate(105.88 220.4) scale(1 1)" font-size="6.5" text-anchor="middle" fill="#2a2a2a" stroke="#2a2a2a" stroke-width="0.2">a</text>
<text x="0" y="0" transform="translate(127.17 329.29) scale(1 1)" font-size="6.5" text-anchor="middle" fill="#2a2a2a" stroke="#2a2a2a" stroke-width="0.2">B</text>
<text x="0" y="0" transform="translate(127.17 335.4) scale(1 1)" font-size="6.5" text-anchor="middle" fill="#2a2a2a" stroke="#2a2a2a" stroke-width="0.2">b</text>
<text x="0" y="0" transform="translate(134.91 274.67) scale(1 1)" font-size="6.5" text-anchor="middle" fill="#2a2a2a" stroke="#2a2a2a" stroke-width="0.2">A</text>
<text x="0" y="0" transform="translate(134.91 279.5) scale(1 1)" font-size="6.5" text-anchor="middle" fill="#2a2a2a" stroke="#2a2a2a" stroke-width="0.2">a</text>
<text x="0" y="0" transform="translate(142.66 324.39) scale(1 1)" font-size="6.5" text-anchor="middle" fill="#2a2a2a" stroke="#2a2a2a" stroke-width="0.2">C</text>
<text x="0" y="0" transform="translate(142.66 330.5) scale(1 1)" font-size="6.5" text-anchor="middle" fill="#2a2a2a" stroke="#2a2a2a" stroke-width="0.2">b</text>
<text x="0" y="0" transform="translate(150.4 278.47) scale(1 1)" font-size="6.5" text-anchor="middle" fill="#2a2a2a" stroke="#2a2a2a" stroke-width="0.2">A</text>
<text x="0" y="0" transform="translate(150.4 283.3) scale(1 1)" font-size="6.5" text-anchor="middle" fill="#2a2a2a" stroke="#2a2a2a" stroke-width="0.2">a</text>
<text x="0" y="0" transform="translate(158.14 328.79) scale(1 1)" font-size="6.5" text-anchor="middle" fill="#2a2a2a" stroke="#2a2a2a" stroke-width="0.2">B</text>
<text x="0" y="0" transform="translate(158.14 334.9) scale(1 1)" font-size="6.5" text-anchor="middle" fill="#2a2a2a" stroke="#2a2a2a" stroke-width="0.2">b</text>
<text x="0" y="0" transform="translate(165.89 255.57) scale(1 1)" font-size="6.5" text-anchor="middle" fill="#2a2a2a" stroke="#2a2a2a" stroke-width="0.2">A</text>
<text x="0" y="0" transform="translate(165.89 260.4) scale(1 1)" font-size="6.5" text-anchor="middle" fill="#2a2a2a" stroke="#2a2a2a" stroke-width="0.2">a</text>
<text x="0" y="0" transform="translate(173.63 260.97) scale(1 1)" font-size="6.5" text-anchor="middle" fill="#2a2a2a" stroke="#2a2a2a" stroke-width="0.2">B</text>
<text x="0" y="0" transform="translate(173.63 265.8) scale(1 1)" font-size="6.5" text-anchor="middle" fill="#2a2a2a" stroke="#2a2a2a" stroke-width="0.2">a</text>
<text x="0" y="0" transform="translate(194.92 296.97) scale(1 1)" font-size="6.5" text-anchor="middle" fill="#2a2a2a" stroke="#2a2a2a" stroke-width="0.2">A</text>
<text x="0" y="0" transform="translate(194.92 301.8) scale(1 1)" font-size="6.5" text-anchor="middle" fill="#2a2a2a" stroke="#2a2a2a" stroke-width="0.2">a</text>
<text x="0" y="0" transform="translate(202.66 276.47) scale(1 1)" font-size="6.5" text-anchor="middle" fill="#2a2a2a" stroke="#2a2a2a" stroke-width="0.2">A</text>
<text x="0" y="0" transform="translate(202.66 281.3) scale(1 1)" font-size="6.5" text-anchor="middle" fill="#2a2a2a" stroke="#2a2a2a" stroke-width="0.2">a</text>
<text x="0" y="0" transform="translate(210.41 286.77) scale(1 1)" font-size="6.5" text-anchor="middle" fill="#2a2a2a" stroke="#2a2a2a" stroke-width="0.2">B</text>
<text x="0" y="0" transform="translate(210.41 291.6) scale(1 1)" font-size="6.5" text-anchor="middle" fill="#2a2a2a" stroke="#2a2a2a" stroke-width="0.2">a</text>
<text x="0" y="0" transform="translate(218.15 298.57) scale(1 1)" font-size="6.5" text-anchor="middle" fill="#2a2a2a" stroke="#2a2a2a" stroke-width="0.2">AB</text>
<text x="0" y="0" transform="translate(218.15 303.4) scale(1 1)" font-size="6.5" text-anchor="middle" fill="#2a2a2a" stroke="#2a2a2a" stroke-width="0.2">a</text>
<text x="0" y="0" transform="translate(225.89 274.77) scale(1 1)" font-size="6.5" text-anchor="middle" fill="#2a2a2a" stroke="#2a2a2a" stroke-width="0.2">AB</text>
<text x="0" y="0" transform="translate(225.89 279.6) scale(1 1)" font-size="6.5" text-anchor="middle" fill="#2a2a2a" stroke="#2a2a2a" stroke-width="0.2">a</text>
<text x="0" y="0" transform="translate(233.64 278.07) scale(1 1)" font-size="6.5" text-anchor="middle" fill="#2a2a2a" stroke="#2a2a2a" stroke-width="0.2">A</text>
<text x="0" y="0" transform="translate(233.64 282.9) scale(1 1)" font-size="6.5" text-anchor="middle" fill="#2a2a2a" stroke="#2a2a2a" stroke-width="0.2">a</text>
<text x="0" y="0" transform="translate(241.38 290.17) scale(1 1)" font-size="6.5" text-anchor="middle" fill="#2a2a2a" stroke="#2a2a2a" stroke-width="0.2">B</text>
<text x="0" y="0" transform="translate(241.38 295) scale(1 1)" font-size="6.5" text-anchor="middle" fill="#2a2a2a" stroke="#2a2a2a" stroke-width="0.2">a</text>
<path d="M41.5 208.2H259.3" stroke="#e6e6e6" stroke-width="1"/>
<path d="M42 208.2V366.4" stroke="#b8b8b8" stroke-width="2"/>
<path d="M258.8 208.2V366.4" stroke="#aaa" stroke-width="1.4"/>
<path d="M41.5 366.4H259.3" stroke="#c4c4c4" stroke-width="1"/>
<path d="M42 366.4H45.2" stroke="#666" stroke-width="0.8"/>
<text x="0" y="0" transform="translate(34.7 370) scale(0.93 1)" font-size="10.3" text-anchor="end" fill="#1a1a1a" stroke="#1a1a1a" stroke-width="0.15">0.0</text>
<path d="M42 313.7H45.2" stroke="#666" stroke-width="0.8"/>
<text x="0" y="0" transform="translate(34.7 317.3) scale(0.93 1)" font-size="10.3" text-anchor="end" fill="#1a1a1a" stroke="#1a1a1a" stroke-width="0.15">0.1</text>
<path d="M42 261H45.2" stroke="#666" stroke-width="0.8"/>
<text x="0" y="0" transform="translate(34.7 264.6) scale(0.93 1)" font-size="10.3" text-anchor="end" fill="#1a1a1a" stroke="#1a1a1a" stroke-width="0.15">0.2</text>
<text x="0" y="0" transform="translate(82.65 380.7) scale(0.93 1)" font-size="10.3" text-anchor="middle" fill="#1a1a1a" stroke="#1a1a1a" stroke-width="0.15">0</text>
<text x="0" y="0" transform="translate(150.4 380.7) scale(0.93 1)" font-size="10.3" text-anchor="middle" fill="#1a1a1a" stroke="#1a1a1a" stroke-width="0.15">6</text>
<text x="0" y="0" transform="translate(218.15 380.7) scale(0.93 1)" font-size="10.3" text-anchor="middle" fill="#1a1a1a" stroke="#1a1a1a" stroke-width="0.15">12</text>
<text x="150.4" y="202.7" font-size="12" text-anchor="middle" fill="#111" stroke="#111" stroke-width="0.2">honey</text>
<rect x="300.72" y="333.8" width="7.73" height="31" fill="#F9C74F" stroke="#3a3a3a" stroke-opacity="0.75" stroke-width="0.6"/>
<rect x="308.45" y="336.3" width="7.73" height="28.5" fill="#14A0A8" stroke="#3a3a3a" stroke-opacity="0.75" stroke-width="0.6"/>
<rect x="316.18" y="334.2" width="7.73" height="30.6" fill="#90BE6D" stroke="#3a3a3a" stroke-opacity="0.75" stroke-width="0.6"/>
<rect x="323.91" y="325.2" width="7.73" height="39.6" fill="#43AA8B" stroke="#3a3a3a" stroke-opacity="0.75" stroke-width="0.6"/>
<rect x="331.64" y="326" width="7.73" height="38.8" fill="#4D908E" stroke="#3a3a3a" stroke-opacity="0.75" stroke-width="0.6"/>
<rect x="339.37" y="316.2" width="7.73" height="48.6" fill="#577590" stroke="#3a3a3a" stroke-opacity="0.75" stroke-width="0.6"/>
<rect x="347.1" y="308.5" width="7.73" height="56.3" fill="#277DA1" stroke="#3a3a3a" stroke-opacity="0.75" stroke-width="0.6"/>
<rect x="368.35" y="344" width="7.73" height="20.8" fill="#F9C74F" stroke="#3a3a3a" stroke-opacity="0.75" stroke-width="0.6"/>
<rect x="376.08" y="329" width="7.73" height="35.8" fill="#14A0A8" stroke="#3a3a3a" stroke-opacity="0.75" stroke-width="0.6"/>
<rect x="383.81" y="328.6" width="7.73" height="36.2" fill="#90BE6D" stroke="#3a3a3a" stroke-opacity="0.75" stroke-width="0.6"/>
<rect x="391.54" y="305.3" width="7.73" height="59.5" fill="#43AA8B" stroke="#3a3a3a" stroke-opacity="0.75" stroke-width="0.6"/>
<rect x="399.26" y="303.2" width="7.73" height="61.6" fill="#4D908E" stroke="#3a3a3a" stroke-opacity="0.75" stroke-width="0.6"/>
<rect x="406.99" y="319.3" width="7.73" height="45.5" fill="#577590" stroke="#3a3a3a" stroke-opacity="0.75" stroke-width="0.6"/>
<rect x="414.72" y="313.1" width="7.73" height="51.7" fill="#277DA1" stroke="#3a3a3a" stroke-opacity="0.75" stroke-width="0.6"/>
<rect x="435.97" y="311.2" width="7.73" height="53.6" fill="#F9C74F" stroke="#3a3a3a" stroke-opacity="0.75" stroke-width="0.6"/>
<rect x="443.7" y="289.3" width="7.73" height="75.5" fill="#14A0A8" stroke="#3a3a3a" stroke-opacity="0.75" stroke-width="0.6"/>
<rect x="451.43" y="290.7" width="7.73" height="74.1" fill="#90BE6D" stroke="#3a3a3a" stroke-opacity="0.75" stroke-width="0.6"/>
<rect x="459.16" y="288.5" width="7.73" height="76.3" fill="#43AA8B" stroke="#3a3a3a" stroke-opacity="0.75" stroke-width="0.6"/>
<rect x="466.89" y="275.3" width="7.73" height="89.5" fill="#4D908E" stroke="#3a3a3a" stroke-opacity="0.75" stroke-width="0.6"/>
<rect x="474.62" y="273.7" width="7.73" height="91.1" fill="#577590" stroke="#3a3a3a" stroke-opacity="0.75" stroke-width="0.6"/>
<rect x="482.35" y="274.7" width="7.73" height="90.1" fill="#277DA1" stroke="#3a3a3a" stroke-opacity="0.75" stroke-width="0.6"/>
<path d="M304.59 333.2V334.4M303.79 333.2H305.39M303.79 334.4H305.39" stroke="#222" stroke-width="0.55" fill="none"/>
<path d="M312.32 335.1V337.5M311.52 335.1H313.12M311.52 337.5H313.12" stroke="#222" stroke-width="0.55" fill="none"/>
<path d="M320.05 332V336.4M319.25 332H320.85M319.25 336.4H320.85" stroke="#222" stroke-width="0.55" fill="none"/>
<path d="M327.77 317.8V332.6M326.97 317.8H328.57M326.97 332.6H328.57" stroke="#222" stroke-width="0.55" fill="none"/>
<path d="M335.5 312V340M334.7 312H336.3M334.7 340H336.3" stroke="#222" stroke-width="0.55" fill="none"/>
<path d="M343.23 313.5V318.9M342.43 313.5H344.03M342.43 318.9H344.03" stroke="#222" stroke-width="0.55" fill="none"/>
<path d="M350.96 300.5V316.5M350.16 300.5H351.76M350.16 316.5H351.76" stroke="#222" stroke-width="0.55" fill="none"/>
<path d="M372.21 341.4V346.6M371.41 341.4H373.01M371.41 346.6H373.01" stroke="#222" stroke-width="0.55" fill="none"/>
<path d="M379.94 326.4V331.6M379.14 326.4H380.74M379.14 331.6H380.74" stroke="#222" stroke-width="0.55" fill="none"/>
<path d="M387.67 325.9V331.3M386.87 325.9H388.47M386.87 331.3H388.47" stroke="#222" stroke-width="0.55" fill="none"/>
<path d="M395.4 297.5V313.1M394.6 297.5H396.2M394.6 313.1H396.2" stroke="#222" stroke-width="0.55" fill="none"/>
<path d="M403.13 295.4V311M402.33 295.4H403.93M402.33 311H403.93" stroke="#222" stroke-width="0.55" fill="none"/>
<path d="M410.86 309V329.6M410.06 309H411.66M410.06 329.6H411.66" stroke="#222" stroke-width="0.55" fill="none"/>
<path d="M418.59 294.6V331.6M417.79 294.6H419.39M417.79 331.6H419.39" stroke="#222" stroke-width="0.55" fill="none"/>
<path d="M439.84 298.4V324M439.04 298.4H440.64M439.04 324H440.64" stroke="#222" stroke-width="0.55" fill="none"/>
<path d="M447.57 284.3V294.3M446.77 284.3H448.37M446.77 294.3H448.37" stroke="#222" stroke-width="0.55" fill="none"/>
<path d="M455.3 285.8V295.6M454.5 285.8H456.1M454.5 295.6H456.1" stroke="#222" stroke-width="0.55" fill="none"/>
<path d="M463.02 287.5V289.5M462.22 287.5H463.82M462.22 289.5H463.82" stroke="#222" stroke-width="0.55" fill="none"/>
<path d="M470.75 223.3V327.3M469.95 223.3H471.55M469.95 327.3H471.55" stroke="#222" stroke-width="0.55" fill="none"/>
<path d="M478.48 265.4V282M477.68 265.4H479.28M477.68 282H479.28" stroke="#222" stroke-width="0.55" fill="none"/>
<path d="M486.21 245.7V303.7M485.41 245.7H487.01M485.41 303.7H487.01" stroke="#222" stroke-width="0.55" fill="none"/>
<text x="0" y="0" transform="translate(304.59 326.12) scale(1 1)" font-size="6.6" text-anchor="middle" fill="#2a2a2a" stroke="#2a2a2a" stroke-width="0">B</text>
<text x="0" y="0" transform="translate(304.59 330.7) scale(1 1)" font-size="6.6" text-anchor="middle" fill="#2a2a2a" stroke="#2a2a2a" stroke-width="0">c</text>
<text x="0" y="0" transform="translate(312.32 328.02) scale(1 1)" font-size="6.6" text-anchor="middle" fill="#2a2a2a" stroke="#2a2a2a" stroke-width="0">C</text>
<text x="0" y="0" transform="translate(312.32 332.6) scale(1 1)" font-size="6.6" text-anchor="middle" fill="#2a2a2a" stroke="#2a2a2a" stroke-width="0">c</text>
<text x="0" y="0" transform="translate(320.05 324.92) scale(1 1)" font-size="6.6" text-anchor="middle" fill="#2a2a2a" stroke="#2a2a2a" stroke-width="0">B</text>
<text x="0" y="0" transform="translate(320.05 329.5) scale(1 1)" font-size="6.6" text-anchor="middle" fill="#2a2a2a" stroke="#2a2a2a" stroke-width="0">c</text>
<text x="0" y="0" transform="translate(327.77 309.42) scale(1 1)" font-size="6.6" text-anchor="middle" fill="#2a2a2a" stroke="#2a2a2a" stroke-width="0">C</text>
<text x="0" y="0" transform="translate(327.77 315.3) scale(1 1)" font-size="6.6" text-anchor="middle" fill="#2a2a2a" stroke="#2a2a2a" stroke-width="0">bc</text>
<text x="0" y="0" transform="translate(335.5 303.62) scale(1 1)" font-size="6.6" text-anchor="middle" fill="#2a2a2a" stroke="#2a2a2a" stroke-width="0">A</text>
<text x="0" y="0" transform="translate(335.5 309.5) scale(1 1)" font-size="6.6" text-anchor="middle" fill="#2a2a2a" stroke="#2a2a2a" stroke-width="0">bc</text>
<text x="0" y="0" transform="translate(343.23 305.12) scale(1 1)" font-size="6.6" text-anchor="middle" fill="#2a2a2a" stroke="#2a2a2a" stroke-width="0">B</text>
<text x="0" y="0" transform="translate(343.23 311) scale(1 1)" font-size="6.6" text-anchor="middle" fill="#2a2a2a" stroke="#2a2a2a" stroke-width="0">ab</text>
<text x="0" y="0" transform="translate(350.96 293.42) scale(1 1)" font-size="6.6" text-anchor="middle" fill="#2a2a2a" stroke="#2a2a2a" stroke-width="0">A</text>
<text x="0" y="0" transform="translate(350.96 298) scale(1 1)" font-size="6.6" text-anchor="middle" fill="#2a2a2a" stroke="#2a2a2a" stroke-width="0">a</text>
<text x="0" y="0" transform="translate(372.21 334.32) scale(1 1)" font-size="6.6" text-anchor="middle" fill="#2a2a2a" stroke="#2a2a2a" stroke-width="0">B</text>
<text x="0" y="0" transform="translate(372.21 338.9) scale(1 1)" font-size="6.6" text-anchor="middle" fill="#2a2a2a" stroke="#2a2a2a" stroke-width="0">c</text>
<text x="0" y="0" transform="translate(379.94 318.02) scale(1 1)" font-size="6.6" text-anchor="middle" fill="#2a2a2a" stroke="#2a2a2a" stroke-width="0">B</text>
<text x="0" y="0" transform="translate(379.94 323.9) scale(1 1)" font-size="6.6" text-anchor="middle" fill="#2a2a2a" stroke="#2a2a2a" stroke-width="0">bc</text>
<text x="0" y="0" transform="translate(387.67 317.52) scale(1 1)" font-size="6.6" text-anchor="middle" fill="#2a2a2a" stroke="#2a2a2a" stroke-width="0">B</text>
<text x="0" y="0" transform="translate(387.67 323.4) scale(1 1)" font-size="6.6" text-anchor="middle" fill="#2a2a2a" stroke="#2a2a2a" stroke-width="0">bc</text>
<text x="0" y="0" transform="translate(395.4 290.42) scale(1 1)" font-size="6.6" text-anchor="middle" fill="#2a2a2a" stroke="#2a2a2a" stroke-width="0">B</text>
<text x="0" y="0" transform="translate(395.4 295) scale(1 1)" font-size="6.6" text-anchor="middle" fill="#2a2a2a" stroke="#2a2a2a" stroke-width="0">a</text>
<text x="0" y="0" transform="translate(403.13 288.32) scale(1 1)" font-size="6.6" text-anchor="middle" fill="#2a2a2a" stroke="#2a2a2a" stroke-width="0">A</text>
<text x="0" y="0" transform="translate(403.13 292.9) scale(1 1)" font-size="6.6" text-anchor="middle" fill="#2a2a2a" stroke="#2a2a2a" stroke-width="0">a</text>
<text x="0" y="0" transform="translate(410.86 300.62) scale(1 1)" font-size="6.6" text-anchor="middle" fill="#2a2a2a" stroke="#2a2a2a" stroke-width="0">B</text>
<text x="0" y="0" transform="translate(410.86 306.5) scale(1 1)" font-size="6.6" text-anchor="middle" fill="#2a2a2a" stroke="#2a2a2a" stroke-width="0">ab</text>
<text x="0" y="0" transform="translate(418.59 286.22) scale(1 1)" font-size="6.6" text-anchor="middle" fill="#2a2a2a" stroke="#2a2a2a" stroke-width="0">A</text>
<text x="0" y="0" transform="translate(418.59 292.1) scale(1 1)" font-size="6.6" text-anchor="middle" fill="#2a2a2a" stroke="#2a2a2a" stroke-width="0">ab</text>
<text x="0" y="0" transform="translate(439.84 291.32) scale(1 1)" font-size="6.6" text-anchor="middle" fill="#2a2a2a" stroke="#2a2a2a" stroke-width="0">A</text>
<text x="0" y="0" transform="translate(439.84 295.9) scale(1 1)" font-size="6.6" text-anchor="middle" fill="#2a2a2a" stroke="#2a2a2a" stroke-width="0">a</text>
<text x="0" y="0" transform="translate(447.57 277.22) scale(1 1)" font-size="6.6" text-anchor="middle" fill="#2a2a2a" stroke="#2a2a2a" stroke-width="0">A</text>
<text x="0" y="0" transform="translate(447.57 281.8) scale(1 1)" font-size="6.6" text-anchor="middle" fill="#2a2a2a" stroke="#2a2a2a" stroke-width="0">a</text>
<text x="0" y="0" transform="translate(455.3 278.72) scale(1 1)" font-size="6.6" text-anchor="middle" fill="#2a2a2a" stroke="#2a2a2a" stroke-width="0">A</text>
<text x="0" y="0" transform="translate(455.3 283.3) scale(1 1)" font-size="6.6" text-anchor="middle" fill="#2a2a2a" stroke="#2a2a2a" stroke-width="0">a</text>
<text x="0" y="0" transform="translate(463.02 280.42) scale(1 1)" font-size="6.6" text-anchor="middle" fill="#2a2a2a" stroke="#2a2a2a" stroke-width="0">A</text>
<text x="0" y="0" transform="translate(463.02 285) scale(1 1)" font-size="6.6" text-anchor="middle" fill="#2a2a2a" stroke="#2a2a2a" stroke-width="0">a</text>
<text x="0" y="0" transform="translate(470.75 216.22) scale(1 1)" font-size="6.6" text-anchor="middle" fill="#2a2a2a" stroke="#2a2a2a" stroke-width="0">A</text>
<text x="0" y="0" transform="translate(470.75 220.8) scale(1 1)" font-size="6.6" text-anchor="middle" fill="#2a2a2a" stroke="#2a2a2a" stroke-width="0">a</text>
<text x="0" y="0" transform="translate(478.48 258.32) scale(1 1)" font-size="6.6" text-anchor="middle" fill="#2a2a2a" stroke="#2a2a2a" stroke-width="0">A</text>
<text x="0" y="0" transform="translate(478.48 262.9) scale(1 1)" font-size="6.6" text-anchor="middle" fill="#2a2a2a" stroke="#2a2a2a" stroke-width="0">a</text>
<text x="0" y="0" transform="translate(486.21 238.62) scale(1 1)" font-size="6.6" text-anchor="middle" fill="#2a2a2a" stroke="#2a2a2a" stroke-width="0">A</text>
<text x="0" y="0" transform="translate(486.21 243.2) scale(1 1)" font-size="6.6" text-anchor="middle" fill="#2a2a2a" stroke="#2a2a2a" stroke-width="0">a</text>
<path d="M286.7 209.5H504.1" stroke="#a8a8a8" stroke-width="1"/>
<path d="M287.2 209.5V364.8" stroke="#aaa" stroke-width="1"/>
<path d="M503.6 209.5V364.8" stroke="#aaa" stroke-width="1"/>
<path d="M286.7 364.8H504.1" stroke="#aaa" stroke-width="1"/>
<path d="M287.2 364.8H290.4" stroke="#666" stroke-width="0.8"/>
<text x="0" y="0" transform="translate(280.2 368.6) scale(0.93 1)" font-size="10.3" text-anchor="end" fill="#1a1a1a" stroke="#1a1a1a" stroke-width="0.15">0</text>
<path d="M287.2 334H290.4" stroke="#666" stroke-width="0.8"/>
<text x="0" y="0" transform="translate(280.2 337.8) scale(0.93 1)" font-size="10.3" text-anchor="end" fill="#1a1a1a" stroke="#1a1a1a" stroke-width="0.15">10</text>
<path d="M287.2 303.1H290.4" stroke="#666" stroke-width="0.8"/>
<text x="0" y="0" transform="translate(280.2 306.9) scale(0.93 1)" font-size="10.3" text-anchor="end" fill="#1a1a1a" stroke="#1a1a1a" stroke-width="0.15">20</text>
<path d="M287.2 272.3H290.4" stroke="#666" stroke-width="0.8"/>
<text x="0" y="0" transform="translate(280.2 276.1) scale(0.93 1)" font-size="10.3" text-anchor="end" fill="#1a1a1a" stroke="#1a1a1a" stroke-width="0.15">30</text>
<path d="M287.2 241.5H290.4" stroke="#666" stroke-width="0.8"/>
<text x="0" y="0" transform="translate(280.2 245.3) scale(0.93 1)" font-size="10.3" text-anchor="end" fill="#1a1a1a" stroke="#1a1a1a" stroke-width="0.15">40</text>
<path d="M287.2 210.7H290.4" stroke="#666" stroke-width="0.8"/>
<text x="0" y="0" transform="translate(280.2 214.5) scale(0.93 1)" font-size="10.3" text-anchor="end" fill="#1a1a1a" stroke="#1a1a1a" stroke-width="0.15">50</text>
<text x="0" y="0" transform="translate(327.77 378.8) scale(0.93 1)" font-size="10.3" text-anchor="middle" fill="#1a1a1a" stroke="#1a1a1a" stroke-width="0.15">0</text>
<text x="0" y="0" transform="translate(395.4 378.8) scale(0.93 1)" font-size="10.3" text-anchor="middle" fill="#1a1a1a" stroke="#1a1a1a" stroke-width="0.15">6</text>
<text x="0" y="0" transform="translate(463.02 378.8) scale(0.93 1)" font-size="10.3" text-anchor="middle" fill="#1a1a1a" stroke="#1a1a1a" stroke-width="0.15">12</text>
<text x="395.4" y="204.4" font-size="12" text-anchor="middle" fill="#111" stroke="#111" stroke-width="0.2">kerosene</text>
<rect x="514.1" y="150.2" width="11.1" height="11.87" fill="#F9C74F" stroke="#333" stroke-width="0.8"/>
<text x="528.2" y="159.45" font-size="10.5" fill="#1a1a1a" stroke="#1a1a1a" stroke-width="0.15">T0</text>
<rect x="514.1" y="162.07" width="11.1" height="11.87" fill="#14A0A8" stroke="#333" stroke-width="0.8"/>
<path d="M514.1 162.07H525.2" stroke="#333" stroke-width="1.5"/>
<text x="528.2" y="171.5" font-size="10.5" fill="#1a1a1a" stroke="#1a1a1a" stroke-width="0.15">T10</text>
<rect x="514.1" y="173.94" width="11.1" height="11.87" fill="#90BE6D" stroke="#333" stroke-width="0.8"/>
<path d="M514.1 173.94H525.2" stroke="#333" stroke-width="1.5"/>
<text x="528.2" y="183.55" font-size="10.5" fill="#1a1a1a" stroke="#1a1a1a" stroke-width="0.15">T11</text>
<rect x="514.1" y="185.81" width="11.1" height="11.87" fill="#43AA8B" stroke="#333" stroke-width="0.8"/>
<path d="M514.1 185.81H525.2" stroke="#333" stroke-width="1.5"/>
<text x="528.2" y="195.6" font-size="10.5" fill="#1a1a1a" stroke="#1a1a1a" stroke-width="0.15">T12</text>
<rect x="514.1" y="197.68" width="11.1" height="11.87" fill="#4D908E" stroke="#333" stroke-width="0.8"/>
<path d="M514.1 197.68H525.2" stroke="#333" stroke-width="1.5"/>
<text x="528.2" y="207.65" font-size="10.5" fill="#1a1a1a" stroke="#1a1a1a" stroke-width="0.15">T13</text>
<rect x="514.1" y="209.55" width="11.1" height="11.87" fill="#577590" stroke="#333" stroke-width="0.8"/>
<path d="M514.1 209.55H525.2" stroke="#333" stroke-width="1.5"/>
<text x="528.2" y="219.7" font-size="10.5" fill="#1a1a1a" stroke="#1a1a1a" stroke-width="0.15">T14</text>
<rect x="514.1" y="221.42" width="11.1" height="11.87" fill="#277DA1" stroke="#333" stroke-width="0.8"/>
<path d="M514.1 221.42H525.2" stroke="#333" stroke-width="1.5"/>
<text x="528.2" y="231.75" font-size="10.5" fill="#1a1a1a" stroke="#1a1a1a" stroke-width="0.15">T15</text>
<text x="205.8" y="398.6" font-size="13" fill="#111" stroke="#111" stroke-width="0.2">Bottle Storage Time (Month)</text>
<text transform="translate(14.6 180.4) rotate(-90)" font-size="13.6" text-anchor="middle" fill="#111" stroke="#111" stroke-width="0.2">Odor activity values</text>
</svg>
</body></html>
